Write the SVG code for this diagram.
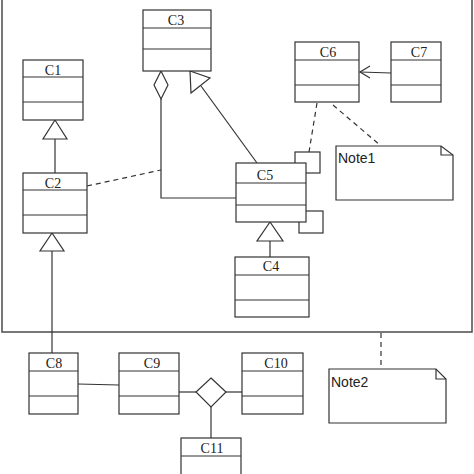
<svg xmlns="http://www.w3.org/2000/svg" width="474" height="474" viewBox="0 0 474 474">
<style>
.box{fill:#fff;stroke:#333;stroke-width:1.2}
.ln{fill:none;stroke:#333;stroke-width:1.2}
.dash{fill:none;stroke:#333;stroke-width:1.2;stroke-dasharray:5,4}
.tri{fill:#fff;stroke:#333;stroke-width:1.2}
.cn{font-family:"Liberation Serif",serif;font-size:14px;fill:#222;text-anchor:middle}
.nt{font-family:"Liberation Sans",sans-serif;font-size:14px;fill:#222}
</style>
<rect x="0" y="0" width="474" height="474" fill="#fff"/>
<g id="frame">
<rect x="2" y="-10" width="470" height="342" fill="none" stroke="#555" stroke-width="1.6"/>
</g>
<g id="connectors">
<line class="ln" x1="55" y1="139" x2="55" y2="173"/>
<polygon class="tri" points="55,120 43,139 67,139"/>
<line class="ln" x1="52" y1="251" x2="52" y2="353"/>
<polygon class="tri" points="52,233 40,251 64,251"/>
<polyline class="ln" points="161,99 161,198 236,198"/>
<polygon class="tri" points="161,71 154,85 161,99 168,85"/>
<line class="dash" x1="87" y1="186" x2="161" y2="170"/>
<line class="ln" x1="257" y1="163" x2="201" y2="86"/>
<polygon class="tri" points="190,71 210,78 191,93"/>
<line class="ln" x1="270" y1="241" x2="270" y2="257"/>
<polygon class="tri" points="270,222 257,241 283,241"/>
<line class="ln" x1="391" y1="73" x2="360" y2="72"/>
<polyline class="ln" points="370,66 360,72 370,78"/>
<line class="dash" x1="317" y1="103" x2="309" y2="152"/>
<line class="dash" x1="333" y1="105" x2="381" y2="146"/>
<line class="dash" x1="381" y1="333" x2="381" y2="369"/>
<line class="ln" x1="78" y1="384" x2="119" y2="385"/>
<line class="ln" x1="179" y1="392" x2="196" y2="392"/>
<line class="ln" x1="226" y1="392" x2="242" y2="392"/>
<line class="ln" x1="211" y1="407" x2="211" y2="438"/>
<polygon class="tri" points="211,378 226,392 211,407 196,392"/>
</g>
<g id="C3"><rect class="box" x="143" y="10" width="68" height="61"/><line class="ln" x1="143" y1="28" x2="211" y2="28"/><line class="ln" x1="143" y1="49" x2="211" y2="49"/><text class="cn" x="176" y="25">C3</text></g>
<g id="C1"><rect class="box" x="23" y="60" width="60" height="60"/><line class="ln" x1="23" y1="77" x2="83" y2="77"/><line class="ln" x1="23" y1="102" x2="83" y2="102"/><text class="cn" x="53" y="75">C1</text></g>
<g id="C2"><rect class="box" x="23" y="173" width="64" height="60"/><line class="ln" x1="23" y1="190" x2="87" y2="190"/><line class="ln" x1="23" y1="215" x2="87" y2="215"/><text class="cn" x="53" y="188">C2</text></g>
<g id="C5">
<rect class="box" x="295" y="152" width="25" height="21"/>
<rect class="box" x="299" y="211" width="24" height="22"/>
<rect class="box" x="236" y="163" width="70" height="59"/><line class="ln" x1="236" y1="183" x2="306" y2="183"/><line class="ln" x1="236" y1="205" x2="306" y2="205"/><text class="cn" x="265" y="180">C5</text></g>
<g id="C4"><rect class="box" x="235" y="257" width="74" height="60"/><line class="ln" x1="235" y1="275" x2="309" y2="275"/><line class="ln" x1="235" y1="300" x2="309" y2="300"/><text class="cn" x="271" y="271">C4</text></g>
<g id="C6"><rect class="box" x="295" y="42" width="64" height="60"/><line class="ln" x1="295" y1="60" x2="359" y2="60"/><line class="ln" x1="295" y1="85" x2="359" y2="85"/><text class="cn" x="328" y="57">C6</text></g>
<g id="C7"><rect class="box" x="391" y="42" width="50" height="60"/><line class="ln" x1="391" y1="60" x2="441" y2="60"/><line class="ln" x1="391" y1="85" x2="441" y2="85"/><text class="cn" x="419" y="57">C7</text></g>
<g id="Note1"><path class="box" d="M336,146 H441 L453,155 V200 H336 Z"/><path class="ln" d="M441,146 V155 H453"/><text class="nt" x="338" y="163">Note1</text></g>
<g id="C8"><rect class="box" x="29" y="353" width="49" height="61"/><line class="ln" x1="29" y1="371" x2="78" y2="371"/><line class="ln" x1="29" y1="396" x2="78" y2="396"/><text class="cn" x="54" y="368">C8</text></g>
<g id="C9"><rect class="box" x="119" y="353" width="60" height="61"/><line class="ln" x1="119" y1="371" x2="179" y2="371"/><line class="ln" x1="119" y1="396" x2="179" y2="396"/><text class="cn" x="152" y="368">C9</text></g>
<g id="C10"><rect class="box" x="242" y="353" width="61" height="61"/><line class="ln" x1="242" y1="371" x2="303" y2="371"/><line class="ln" x1="242" y1="396" x2="303" y2="396"/><text class="cn" x="276" y="368">C10</text></g>
<g id="C11"><rect class="box" x="181" y="438" width="60" height="50"/><line class="ln" x1="181" y1="456" x2="241" y2="456"/><text class="cn" x="212" y="453">C11</text></g>
<g id="Note2"><path class="box" d="M329,369 H436 L446,379 V423 H329 Z"/><path class="ln" d="M436,369 V379 H446"/><text class="nt" x="331" y="387">Note2</text></g>
</svg>
